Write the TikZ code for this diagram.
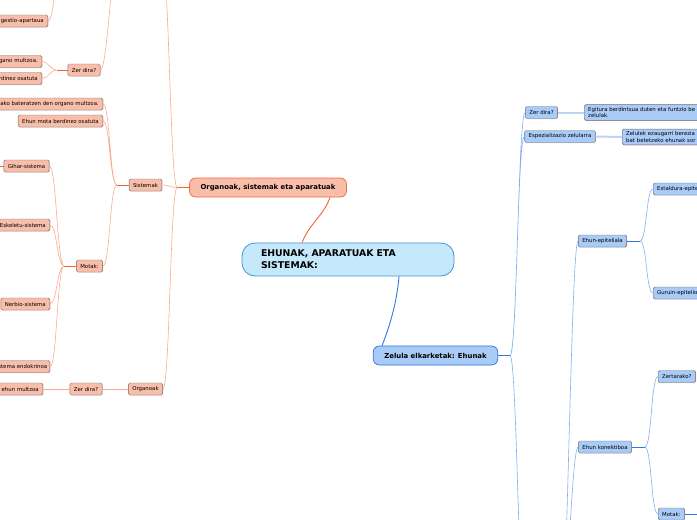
\documentclass[tikz,border=0pt]{standalone}
\usepackage{fontspec}
\setmainfont{DejaVu Sans}
\usetikzlibrary{calc,shadows}
\definecolor{rootfill}{RGB}{197,233,250}
\definecolor{rootedge}{RGB}{66,146,220}
\definecolor{orfill}{RGB}{249,190,170}
\definecolor{oredge}{RGB}{240,104,62}
\definecolor{orhotc}{RGB}{242,98,52}
\definecolor{orlinec}{RGB}{249,170,142}
\definecolor{blfill}{RGB}{168,203,248}
\definecolor{bledge}{RGB}{44,112,222}
\definecolor{blhotc}{RGB}{50,120,224}
\definecolor{bllinec}{RGB}{128,176,240}
\definecolor{blpale}{RGB}{188,215,246}
\definecolor{subedge}{RGB}{120,104,100}

\begin{document}
\begin{tikzpicture}[x=1pt,y=-1pt,
    rootbox/.style={draw=rootedge, fill=rootfill, line width=0.8pt, rounded corners=13pt,
      minimum height=33pt, text width=174pt, inner xsep=19pt, align=left,
      font=\fontsize{9.3}{12}\selectfont\bfseries},
    mainbox/.style={line width=0.7pt, rounded corners=6pt, minimum height=19pt, inner xsep=11pt,
      font=\fontsize{6.9}{8}\selectfont\bfseries},
    subbox/.style={draw=subedge, line width=0.45pt, rounded corners=1.5pt, minimum height=12pt,
      inner xsep=4pt, inner ysep=1pt, font=\fontsize{5.4}{6.4}\selectfont,
      drop shadow={shadow xshift=0.5pt, shadow yshift=-0.6pt, opacity=0.3}},
    orsub/.style={subbox, fill=orfill},
    blsub/.style={subbox, fill=blfill},
    cutl/.style={text width=#1, align=right, anchor=east},
    cutr/.style={text width=#1, align=left, anchor=west},
    lbranch/.style={to path={.. controls +(-7,0) and +(7,0) .. (\tikztotarget)}},
    rbranch/.style={to path={.. controls +(7,0) and +(-7,0) .. (\tikztotarget)}},
    orhot/.style={draw=orhotc, line width=0.9pt},
    orlink/.style={draw=orlinec, line width=0.6pt},
    blhot/.style={draw=blhotc, line width=0.9pt},
    bllink/.style={draw=bllinec, line width=0.6pt},
]
\useasboundingbox (0,0) rectangle (697,520);
\clip (0,0) rectangle (697,520);

% ---------- centre ----------
\node[rootbox] (rootn) at (348,259.5) {EHUNAK, APARATUAK ETA\\SISTEMAK:};
\node[mainbox, draw=oredge, fill=orfill] (orgmain) at (268,187.5) {Organoak, sistemak eta aparatuak};
\node[mainbox, draw=bledge, fill=blfill] (blmain) at (435.5,355.5) {Zelula elkarketak: Ehunak};

% ---------- orange side ----------
\node[orsub] (sistemak) at (145.5,185) {Sistemak};
\node[orsub] (organoak) at (145.5,389) {Organoak};
\node[orsub, anchor=east] (sbat) at (103,104) {ako bateratzen den organo multzoa.};
\node[orsub, anchor=east] (smota) at (103,121) {Ehun mota berdinez osatuta};
\node[orsub] (motak) at (89.5,266) {Motak:};
\node[orsub] (gihar) at (26.5,166) {Gihar-sistema};
\node[orsub, anchor=east] (eskel) at (50,225) {Eskeletu-sistema};
\node[orsub, anchor=east] (nerbio) at (50,304) {Nerbio-sistema};
\node[orsub, cutl=60pt, inner xsep=2.5pt] (endok) at (50,366.5) {stema endokrinoa};
\node[orsub] (zerorg) at (86,389) {Zer dira?};
\node[orsub, cutl=50pt] (ehunmultz) at (43,389) {ehun multzoa};
\node[orsub] (zerup) at (84,70) {Zer dira?};
\node[orsub, cutl=50pt] (zgano) at (42,61.5) {gano multzoa.};
\node[orsub, cutl=50pt] (zrdinez) at (42,78.5) {rdinez osatuta};
\node[orsub, cutl=60pt] (gestio) at (48,21) {gestio-apartaua};

\coordinate (orup) at (162,-40);
\coordinate (zerpar) at (118,-40);
\coordinate (gestpar) at (62,-40);
\coordinate (giharout) at (-10,166);
\coordinate (jor) at ($(orgmain.west)+(-12,0)$);
\coordinate (jsis) at ($(sistemak.west)+(-12,0)$);
\coordinate (jmot) at ($(motak.west)+(-12,0)$);
\coordinate (jzer) at ($(zerup.west)+(-11,0)$);

\draw[orhot] ($(rootn.north)+(-46,0)$) .. controls +(8,-20) and +(-6,18) .. ($(orgmain.south)+(62,0)$);
\draw[orhot] (orgmain.west) -- (jor);
\draw[orlink] (jor) to[lbranch] (sistemak.east) (jor) to[lbranch] (organoak.east) (jor) to[lbranch] (orup);
\draw[orhot] (sistemak.west) -- (jsis);
\draw[orlink] (jsis) to[lbranch] (sbat.east) (jsis) to[lbranch] (smota.east) (jsis) to[lbranch] (motak.east);
\draw[orhot] (motak.west) -- (jmot);
\draw[orlink] (jmot) to[lbranch] (gihar.east) (jmot) to[lbranch] (eskel.east)
  (jmot) to[lbranch] (nerbio.east) (jmot) to[lbranch] (endok.east);
\draw[orhot] (gihar.west) -- (giharout);
\draw[orlink, line width=1pt] (organoak.west) -- (zerorg.east);
\draw[orlink, line width=1pt] (zerorg.west) -- (ehunmultz.east);
\draw[orhot] (zerup.west) -- (jzer);
\draw[orlink] (jzer) to[lbranch] (zgano.east) (jzer) to[lbranch] (zrdinez.east);
\draw[orlink] (zerup.east) to[rbranch] (zerpar);
\draw[orlink] (gestio.east) to[rbranch] (gestpar);

% ---------- blue side ----------
\node[blsub] (zerbl) at (541.5,112.5) {Zer dira?};
\node[blsub, cutr=150pt, inner ysep=2.5pt] (egitura) at (584,112.5) {Egitura berdintsua duten eta funtzio be\\zelulak.};
\node[blsub] (espez) at (560,136.5) {Espezializazio zelularra};
\node[blsub, cutr=150pt, inner ysep=2.5pt] (zelulek) at (622,137) {Zelulek ezaugarri berezia\\bat betetzeko ehunak sor};
\node[blsub] (epit) at (602.5,241) {Ehun-epiteliala};
\node[blsub, cutr=60pt] (estald) at (653,189) {Estaldura-epite};
\node[blsub, cutr=60pt] (guruin) at (653,293) {Guruin-epitelio};
\node[blsub] (konekt) at (605,447) {Ehun konektiboa};
\node[blsub, anchor=west] (zertarako) at (658,376.5) {Zertarako?};
\node[blsub, anchor=west] (motakb) at (658,514) {Motak:};

\coordinate (bldown) at (526,640);
\coordinate (blpar) at (560,640);
\coordinate (motakout) at (705,514);
\coordinate (jbl) at ($(blmain.east)+(12,0)$);
\coordinate (jepi) at ($(epit.east)+(13,0)$);
\coordinate (jkon) at ($(konekt.east)+(13,0)$);

\draw[blhot] ($(rootn.south)+(51,0)$) .. controls +(-2,25) and +(8,-20) .. ($(blmain.north)+(-53.5,0)$);
\draw[blhot] (blmain.east) -- (jbl);
\draw[bllink] (jbl) to[rbranch] (zerbl.west) (jbl) to[rbranch] (espez.west) (jbl) to[rbranch] (bldown);
\draw[blpale, line width=2pt] (zerbl.east) -- (egitura.west);
\draw[blpale, line width=2pt] (espez.east) -- (zelulek.west);
\draw[bllink] (blpar) to[rbranch] (epit.west) (blpar) to[rbranch] (konekt.west);
\draw[blhot] (epit.east) -- (jepi);
\draw[bllink] (jepi) to[rbranch] (estald.west) (jepi) to[rbranch] (guruin.west);
\draw[blhot] (konekt.east) -- (jkon);
\draw[bllink] (jkon) to[rbranch] (zertarako.west) (jkon) to[rbranch] (motakb.west);
\draw[blhot] (motakb.east) -- (motakout);

\end{tikzpicture}
\end{document}
